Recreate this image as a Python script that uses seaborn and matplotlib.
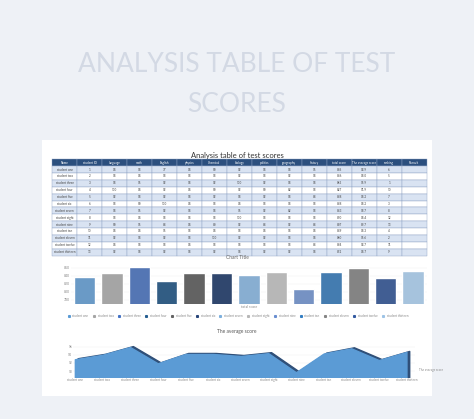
import matplotlib
matplotlib.use("Agg")
import matplotlib.pyplot as plt
import seaborn as sns
import pandas as pd

sns.set_theme(style="white")
plt.rcParams['font.family'] = ['Lato', 'DejaVu Sans']

names = ["student one", "student two", "student three", "student four", "student five",
         "student six", "student seven", "student eight", "student nine", "student ten",
         "student eleven", "student twelve", "student thirteen"]
ids = list(range(1, 14))
subjects = ["language", "math", "English", "physics", "Chemical", "biology", "politics", "geography", "history"]
scores = [
    [94, 98, 77, 94, 90, 92, 98, 98, 95],
    [98, 94, 93, 93, 93, 92, 93, 92, 98],
    [98, 95, 92, 98, 92, 100, 92, 98, 98],
    [100, 94, 92, 94, 90, 92, 90, 82, 93],
    [92, 98, 92, 98, 92, 98, 92, 98, 88],
    [93, 90, 100, 94, 93, 94, 93, 98, 93],
    [98, 95, 92, 98, 98, 95, 92, 82, 93],
    [93, 94, 93, 98, 93, 100, 93, 93, 93],
    [90, 95, 88, 94, 80, 92, 88, 92, 88],
    [94, 94, 95, 93, 94, 93, 94, 98, 94],
    [92, 98, 92, 98, 100, 92, 92, 98, 98],
    [94, 93, 93, 94, 93, 93, 93, 93, 88],
    [92, 98, 92, 98, 92, 98, 92, 92, 98],
]
ranking = [6, 5, 1, 10, 7, 3, 8, 12, 13, 4, 2, 11, 9]
bar_colors = ["#5b9bd5", "#a5a5a5", "#4472c4", "#255e91", "#636363", "#264478",
              "#7cafdd", "#b7b7b7", "#698ed0", "#327dc2", "#848484", "#335aa1", "#9dc3e6"]

totals = [sum(r) for r in scores]
avgs = [round(t / 9, 1) for t in totals]

fig = plt.figure(figsize=(4.74, 4.19), dpi=100)
fig.patch.set_facecolor("#eef1f6")
fig.text(0.5, 0.845, "ANALYSIS TABLE OF TEST", ha="center", va="center", fontsize=19, color="#d3d9e4")
fig.text(0.5, 0.75, "SCORES", ha="center", va="center", fontsize=19, color="#d3d9e4")

card = fig.add_axes([0.088, 0.055, 0.824, 0.61])
card.set_facecolor("white")
card.set_xticks([]); card.set_yticks([])
for s in card.spines.values():
    s.set_visible(False)

fig.text(0.5, 0.63, "Analysis table of test scores", ha="center", va="center", fontsize=5.5, color="#333333")

tax = fig.add_axes([0.11, 0.39, 0.79, 0.23])
tax.axis("off")
cols = ["Name", "student ID"] + subjects + ["total score", "The average score", "ranking", "Remark"]
rows = []
for i in range(13):
    rows.append([names[i], ids[i]] + scores[i] + [totals[i], avgs[i], ranking[i], ""])
tbl = tax.table(cellText=rows, colLabels=cols, loc="center", cellLoc="center", bbox=[0, 0, 1, 1])
tbl.auto_set_font_size(False)
tbl.set_fontsize(2.2)
for (r, c), cell in tbl.get_celld().items():
    cell.set_linewidth(0.3)
    cell.set_edgecolor("#8ea2c4")
    if r == 0:
        cell.set_facecolor("#2b4f7e")
        cell.get_text().set_color("white")
    else:
        cell.set_facecolor("#d9e3f2" if r % 2 == 1 else "white")
        cell.get_text().set_color("#444444")

fig.text(0.5, 0.385, "Chart Title", ha="center", va="center", fontsize=3.5, color="#666666")
bax = fig.add_axes([0.15, 0.275, 0.75, 0.1])
df = pd.DataFrame({"name": names, "total": totals})
sns.barplot(data=df, x="name", y="total", hue="name", palette=bar_colors, legend=False, ax=bax, width=0.78)
bax.set_ylim(770, 875)
bax.set_xticks([])
bax.set_xlabel("total score", fontsize=2.5, color="#888888", labelpad=1)
bax.set_ylabel("")
bax.tick_params(axis="y", labelsize=2.5, colors="#888888", length=0, pad=1)
bax.yaxis.grid(True, color="#eeeeee", linewidth=0.3)
for s in bax.spines.values():
    s.set_visible(False)
handles = [plt.Line2D([], [], marker="s", linestyle="", color=c, markersize=1.2) for c in bar_colors]
fig.legend(handles, names, loc="center", bbox_to_anchor=(0.5, 0.245), ncol=13, fontsize=2.2,
           frameon=False, handletextpad=0.2, columnspacing=0.8, labelcolor="#888888")

fig.text(0.5, 0.21, "The average score", ha="center", va="center", fontsize=3.5, color="#555555")
aax = fig.add_axes([0.155, 0.1, 0.72, 0.09])
x = list(range(13))
aax.fill_between([v + 0.1 for v in x], [a + 0.25 for a in avgs], 85, color="#2f4f78")
aax.fill_between(x, avgs, 85, color="#5b9bd5")
aax.set_xlim(-0.05, 12.3)
aax.set_ylim(88.5, 97.8)
aax.set_xticks(x)
aax.set_xticklabels(names, fontsize=2.2, color="#888888")
aax.tick_params(axis="both", length=0, pad=1)
aax.tick_params(axis="y", labelsize=2.3, colors="#888888")
aax.yaxis.grid(True, color="#eeeeee", linewidth=0.3)
for s in aax.spines.values():
    s.set_visible(False)
fig.text(0.885, 0.115, "The average score", fontsize=2.2, color="#888888")

fig.savefig("out.png", dpi=100, facecolor=fig.get_facecolor())
